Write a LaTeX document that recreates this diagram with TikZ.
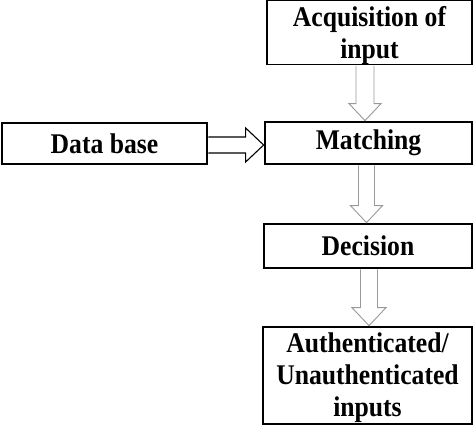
\documentclass[tikz,border=0pt]{standalone}
\usepackage{fontspec}
\setmainfont{Liberation Serif}
\newfontfamily\boxfont[FakeStretch=0.9]{Liberation Serif}
\usetikzlibrary{calc}
\begin{document}
\begin{tikzpicture}[x=1pt,y=1pt,
  box/.style={draw=black,line width=1.3pt,inner sep=0pt,align=center,
    font=\boxfont\bfseries\fontsize{28.5}{32}\selectfont},
  garrow/.style={draw=black!40,line width=0.9pt,fill=white},
  barrow/.style={draw=black,line width=1.1pt,fill=white}]
\useasboundingbox (0,0) rectangle (474,-425);
\node[box,minimum width=205,minimum height=63] (acq) at (369.5,-32.5) {\rule{0pt}{26pt}Acquisition of\\input};
\node[box,minimum width=207,minimum height=42] (match) at (368.5,-143) {Matching};
\node[box,minimum width=205,minimum height=41] (db) at (104.5,-143.5) {Data base};
\node[box,minimum width=208,minimum height=44] (dec) at (368,-246) {Decision};
\node[box,minimum width=209,minimum height=97] (auth) at (367.5,-375.5) {\rule{0pt}{24pt}Authenticated/\\Unauthenticated\\inputs};
% Acquisition -> Matching
\coordinate (t1) at ($(match.north)+(-3.5,0.7)$);
\coordinate (b1) at ($(t1 |- acq.south)+(0,-0.7)$);
\draw[garrow] ($(b1)+(-9,0)$) -- ($(t1)+(-9,17)$) -- ($(t1)+(-16,17)$) -- (t1)
  -- ($(t1)+(16,17)$) -- ($(t1)+(9,17)$) -- ($(b1)+(9,0)$);
% Matching -> Decision
\coordinate (t2) at ($(dec.north)+(-1.5,0.7)$);
\coordinate (b2) at ($(t2 |- match.south)+(0,-0.7)$);
\draw[garrow] ($(b2)+(-8,0)$) -- ($(t2)+(-8,17)$) -- ($(t2)+(-16,17)$) -- (t2)
  -- ($(t2)+(16,17)$) -- ($(t2)+(8,17)$) -- ($(b2)+(8,0)$);
% Decision -> Auth
\coordinate (t3) at ($(auth.north)+(1.5,0.7)$);
\coordinate (b3) at ($(t3 |- dec.south)+(0,-0.7)$);
\draw[garrow] ($(b3)+(-8.5,0)$) -- ($(t3)+(-8.5,18)$) -- ($(t3)+(-17,18)$) -- (t3)
  -- ($(t3)+(17,18)$) -- ($(t3)+(8.5,18)$) -- ($(b3)+(8.5,0)$);
% Data base -> Matching
\coordinate (t4) at ($(match.west)+(-0.7,-2)$);
\coordinate (b4) at ($(t4 -| db.east)+(0.7,0)$);
\draw[barrow] ($(b4)+(0,8)$) -- ($(t4)+(-18,8)$) -- ($(t4)+(-18,17)$) -- (t4)
  -- ($(t4)+(-18,-17)$) -- ($(t4)+(-18,-8)$) -- ($(b4)+(0,-8)$);
\end{tikzpicture}
\end{document}
